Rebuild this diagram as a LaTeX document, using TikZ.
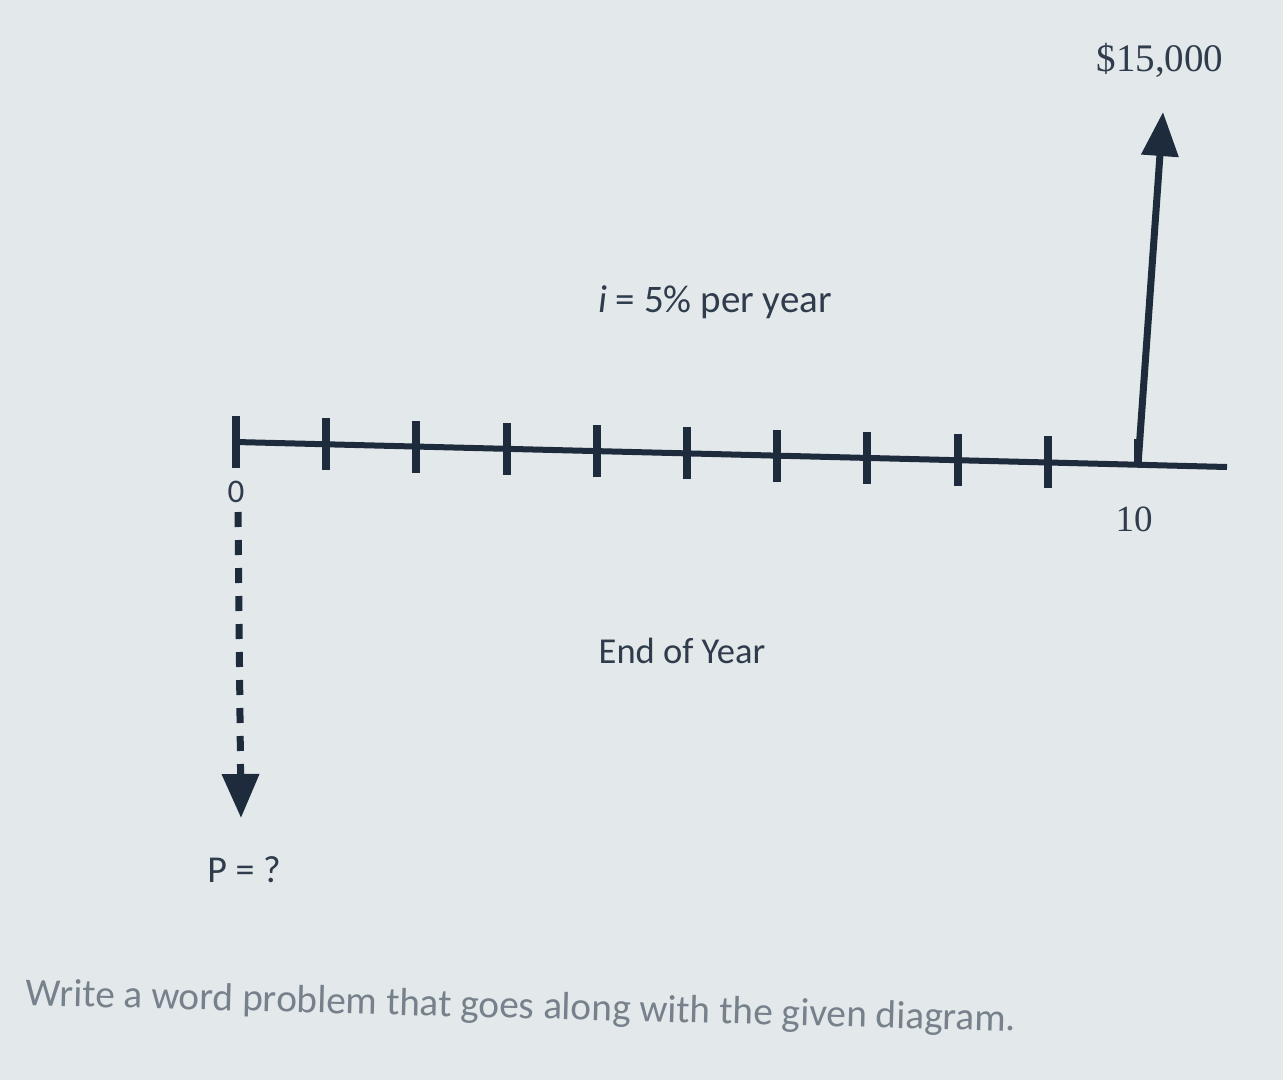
\documentclass[tikz,border=0pt]{standalone}
\usepackage{fontspec}
\setmainfont{Carlito}
\newfontfamily\numfont{Liberation Serif}
\usetikzlibrary{arrows.meta,calc}
\definecolor{bgc}{HTML}{E3E8EA}
\definecolor{inkc}{HTML}{1E2B3C}
\definecolor{txtc}{HTML}{2F3C4C}
\definecolor{greyc}{HTML}{76818B}
\tikzset{
  axis/.style={draw=inkc, line width=6pt},
  tickmark/.style={draw=inkc, line width=8pt},
  flow/.style={draw=inkc, line width=7pt, -{Triangle[width=36pt,length=44pt]}},
  lbl/.style={text=txtc, inner sep=0pt, font=\fontsize{28}{32}\selectfont},
}
\begin{document}
\begin{tikzpicture}[x=1pt,y=-1pt]
\fill[bgc] (0,0) rectangle (1283,1080);
\useasboundingbox (0,0) rectangle (1283,1080);
% timeline
\coordinate (t0) at (236,442);
\coordinate (tend) at (1227,467);
\draw[axis] (t0) -- (tend);
\foreach \k in {0,...,10}{
  \coordinate (k\k) at ($(t0)!\k*90.2/991!(tend)$);
}
\foreach \k in {0,...,9}{
  \draw[tickmark] ([yshift=-26pt]k\k) -- ([yshift=26pt]k\k);
}
\draw[tickmark] (k10) -- ([yshift=26pt]k10);
% up arrow
\coordinate (top) at (1163,112);
\draw[flow] (k10) -- (top);
% labels
\node[lbl, font=\numfont\fontsize{39}{40}\selectfont] (amt) at (1160,60) {\$15,000};
\node[lbl, font=\fontsize{33}{36}\selectfont] (zero) at (236,492) {0};
\node[lbl, font=\numfont\fontsize{37}{40}\selectfont] (ten) at (1134,519) {10};
\node[lbl, font=\fontsize{39}{42}\selectfont] (rate) at (715,302) {\textit{i} = 5\% per year};
\node[lbl, font=\fontsize{36.5}{40}\selectfont] (eoy) at (682,651) {End of Year};
% down arrow
\coordinate (ds) at (238,512);
\coordinate (de) at (241,818);
\draw[flow, dash pattern=on 15pt off 13pt] (ds) -- (de);
\node[lbl, font=\fontsize{38}{40}\selectfont] (p) at (244,870) {P = ?};
% bottom
\node[text=greyc, inner sep=0pt, font=\fontsize{39.3}{42}\selectfont, rotate=-1.5] (q) at (521,1008) {Write a word problem that goes along with the given diagram.};
\end{tikzpicture}
\end{document}
